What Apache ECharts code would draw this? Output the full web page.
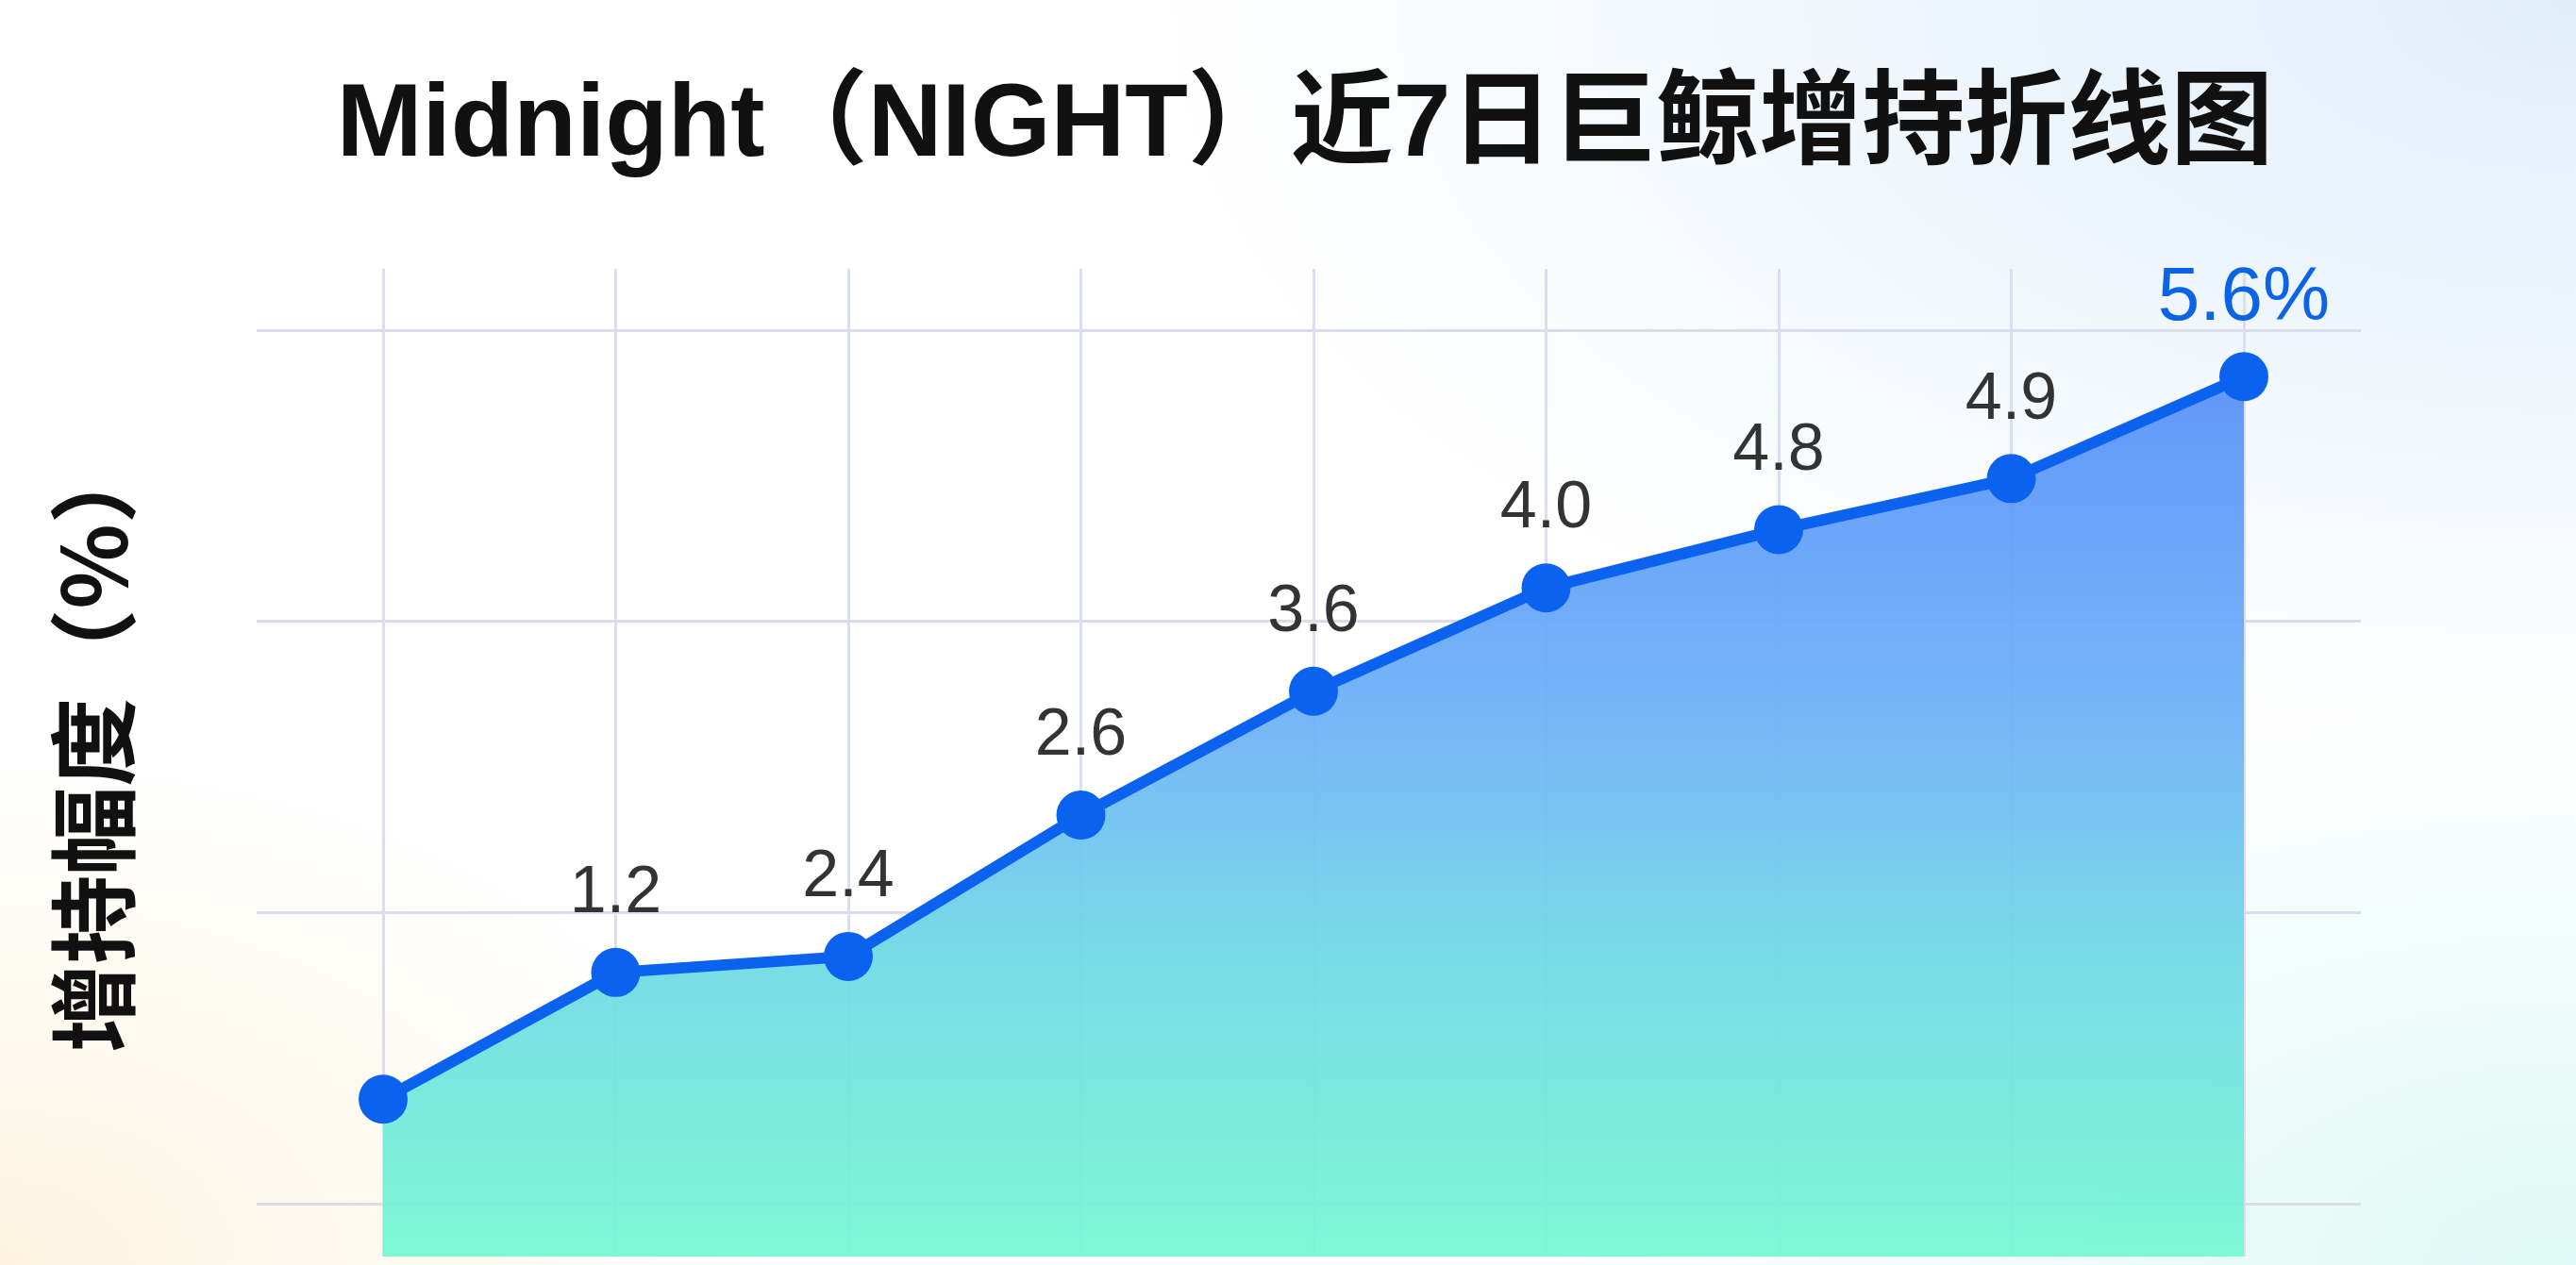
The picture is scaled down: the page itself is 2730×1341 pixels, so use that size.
<!DOCTYPE html>
<html>
<head>
<meta charset="utf-8">
<script src="https://cdn.jsdelivr.net/npm/echarts@6/dist/echarts.min.js"></script>
<style>
  html, body { margin: 0; padding: 0; width: 2730px; height: 1341px; overflow: hidden; }
  body {
    background:
      radial-gradient(ellipse 55% 60% at 100% 0%, rgba(224,238,250,1) 0%, rgba(224,238,250,0) 100%),
      radial-gradient(ellipse 30% 40% at 0% 100%, rgba(252,244,224,1) 0%, rgba(252,244,224,0) 100%),
      radial-gradient(ellipse 40% 45% at 100% 100%, rgba(222,249,245,1) 0%, rgba(222,249,245,0) 100%),
      #ffffff;
  }
  #chart { width: 2730px; height: 1341px; }
</style>
</head>
<body>
<div id="chart"></div>
<script>
const titleText = 'Midnight（NIGHT）近7日巨鲸增持折线图';
const yAxisName = '增持幅度（%）';
const categories = ['1', '2', '3', '4', '5', '6', '7', '8', '9'];
const holdingIncrease = [0.72, 1.59, 1.70, 2.67, 3.52, 4.23, 4.63, 4.98, 5.68];
const labelTexts = ['', '1.2', '2.4', '2.6', '3.6', '4.0', '4.8', '4.9', '5.6%'];

const blue = '#0a62ee';
const yMin = -0.36;
const yMax = 6.42;
const lastIndex = holdingIncrease.length - 1;
const seriesData = holdingIncrease.map((v, i) => i === lastIndex
  ? { value: v, label: { fontSize: 80, color: '#0b63e6', distance: 16 } }
  : v);

const chart = echarts.init(document.getElementById('chart'), null, { renderer: 'canvas' });
chart.setOption({
  animation: false,
  backgroundColor: 'transparent',
  title: {
    text: titleText,
    left: 1378,
    textAlign: 'center',
    top: 75,
    textStyle: {
      fontSize: 109,
      fontWeight: 'bold',
      color: '#111111',
      fontFamily: "'Liberation Sans', 'Noto Sans CJK SC', sans-serif"
    }
  },
  grid: [
    { left: 272, right: 228, top: 285, bottom: 9 },
    { left: 406, right: 352, top: 285, bottom: 9 }
  ],
  xAxis: [
    { gridIndex: 0, type: 'value', min: 0, max: 1, show: false },
    {
      gridIndex: 1, type: 'category', data: categories, boundaryGap: false,
      axisLine: { show: false }, axisTick: { show: false }, axisLabel: { show: false },
      splitLine: { show: true, lineStyle: { color: '#d9dff0', width: 3 } }
    }
  ],
  yAxis: [
    {
      gridIndex: 0, type: 'value', min: yMin, max: yMax, splitNumber: 4,
      axisLine: { show: false }, axisTick: { show: false }, axisLabel: { show: false },
      splitLine: { show: true, showMinLine: false, showMaxLine: false, lineStyle: { color: '#dadde9', width: 3 } }
    },
    {
      gridIndex: 1, type: 'value', min: yMin, max: yMax, splitNumber: 4,
      axisLine: { show: false }, axisTick: { show: false }, axisLabel: { show: false },
      splitLine: { show: false },
      name: yAxisName,
      nameLocation: 'middle',
      nameRotate: 90,
      nameGap: 260,
      nameTextStyle: {
        fontSize: 94,
        fontWeight: 'bold',
        color: '#111111',
        fontFamily: "'Noto Sans CJK SC', sans-serif",
        padding: [0, 0, 0, 40]
      }
    }
  ],
  series: [{
    type: 'line',
    xAxisIndex: 1,
    yAxisIndex: 1,
    data: seriesData,
    symbol: 'circle',
    symbolSize: 52,
    lineStyle: { color: blue, width: 12 },
    itemStyle: { color: blue },
    areaStyle: {
      origin: 'start',
      opacity: 0.95,
      color: new echarts.graphic.LinearGradient(0, 0, 0, 1, [
        { offset: 0, color: '#5a91fa' },
        { offset: 0.4, color: '#70b3f7' },
        { offset: 0.65, color: '#72d8e6' },
        { offset: 1, color: '#76f8d1' }
      ])
    },
    label: {
      show: true,
      position: 'top',
      distance: 22,
      fontSize: 70,
      color: '#333333',
      fontFamily: "'Liberation Sans', sans-serif",
      formatter: (p) => labelTexts[p.dataIndex]
    }
  }]
});
</script>
</body>
</html>
